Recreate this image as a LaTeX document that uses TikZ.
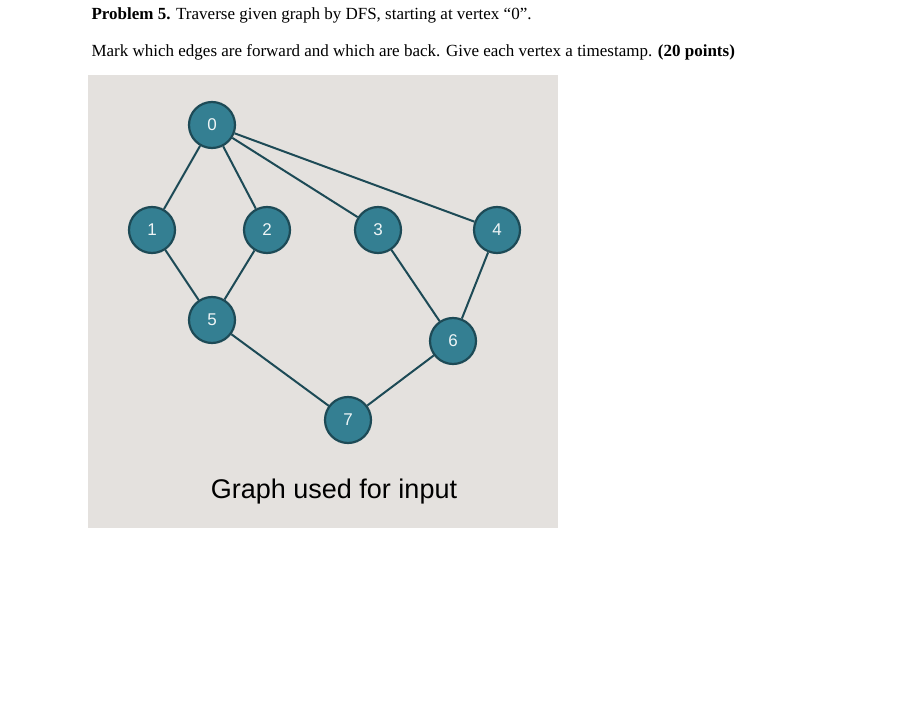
\documentclass[tikz,border=0pt]{standalone}
\usepackage{fontspec}
\setmainfont{Liberation Serif}
\setsansfont{Liberation Sans}
\definecolor{panel}{HTML}{E4E1DE}
\definecolor{vfill}{HTML}{347F92}
\definecolor{vline}{HTML}{1D4A56}
\begin{document}
\begin{tikzpicture}[x=1pt,y=-1pt]
            \tikzstyle{vertex}=[circle, minimum size = 46pt, inner sep=0pt, line width=2.2pt, draw = vline, fill = vfill, text = white!92!vfill, font=\sffamily\fontsize{17}{17}\selectfont]
            \tikzstyle{connect}=[line width=2pt, draw = vline]
            \useasboundingbox (0,0) rectangle (923,711);
            \fill[white] (0,0) rectangle (923,711);
            \fill[panel] (88,75) rectangle (558,528);
            \node[anchor=base west, font=\fontsize{17}{17}\selectfont] (title) at (88,20){\textbf{Problem 5.} Traverse given graph by DFS, starting at vertex “0”.};
            \node[anchor=base west, font=\fontsize{17}{17}\selectfont] (task) at (88,57){Mark which edges are forward and which are back. Give each vertex a timestamp. \textbf{(20 points)}};
            \node[vertex] (V0) at (212,125){0};
            \node[vertex] (V1) at (152,230){1};
            \node[vertex] (V2) at (267,230){2};
            \node[vertex] (V3) at (378,230){3};
            \node[vertex] (V4) at (497,230){4};
            \node[vertex] (V5) at (212,320){5};
            \node[vertex] (V6) at (453,341){6};
            \node[vertex] (V7) at (348,420){7};
            \node[font=\sffamily\fontsize{27}{27}\selectfont] (caption) at (334,492){Graph used for input};
            \path[-] (V0) edge [connect] (V1);
            \path[-] (V0) edge [connect] (V2);
            \path[-] (V0) edge [connect] (V3);
            \path[-] (V0) edge [connect] (V4);
            \path[-] (V1) edge [connect] (V5);
            \path[-] (V2) edge [connect] (V5);
            \path[-] (V3) edge [connect] (V6);
            \path[-] (V4) edge [connect] (V6);
            \path[-] (V5) edge [connect] (V7);
            \path[-] (V7) edge [connect] (V6);
        \end{tikzpicture}
\end{document}
